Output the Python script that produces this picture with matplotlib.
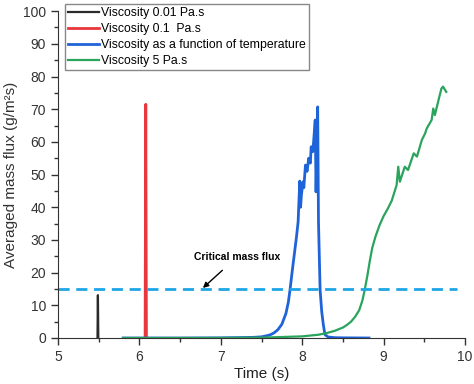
import matplotlib.pyplot as plt
from matplotlib.ticker import MultipleLocator

plt.rcParams['font.family'] = ['Liberation Sans', 'DejaVu Sans']

# series
t_low = [5.485, 5.49, 5.495]
flux_low = [0, 13.1, 0]

t_mid = [6.07, 6.078, 6.086]
flux_mid = [0, 71.5, 0]

t_temp = [5.8, 6.5, 7.0, 7.3, 7.4, 7.5, 7.6, 7.65, 7.7, 7.75, 7.8, 7.83, 7.85,
          7.88, 7.91, 7.93, 7.95, 7.97, 7.98, 7.99,
          8.01, 8.02, 8.04, 8.06, 8.08, 8.10, 8.11, 8.13, 8.14, 8.16, 8.17, 8.19,
          8.20, 8.22, 8.24, 8.26, 8.28, 8.32, 8.4, 8.5, 8.82]
flux_temp = [0, 0, 0.05, 0.15, 0.2, 0.35, 0.9, 1.5, 2.5, 4.2, 7.5, 11, 14.7,
             21, 27, 31, 35.6, 48, 40, 43.7,
             47.8, 46, 52.9, 51, 55, 53.5, 58.5, 57, 60, 66.7, 44.7, 70.7,
             35.6, 14.7, 8, 4, 1, 0.3, 0.1, 0.05, 0]

t_high = [5.8, 6.5, 7.0, 7.5, 8.0, 8.2, 8.3, 8.4, 8.5, 8.55, 8.6, 8.65, 8.7,
          8.74, 8.77, 8.8, 8.83, 8.86, 8.9, 8.95, 9.0, 9.05, 9.10,
          9.16, 9.18, 9.20, 9.26, 9.30, 9.37, 9.41, 9.47, 9.51, 9.53, 9.59, 9.61,
          9.63, 9.67, 9.71, 9.73, 9.77]
flux_high = [0, 0, 0.02, 0.1, 0.5, 1.0, 1.5, 2.2, 3.2, 4, 5, 6.5, 8.5,
             11.5, 15, 19, 23.5, 27.5, 31, 34.5, 37.3, 39.5, 42,
             46.8, 52.4, 47.8, 52.4, 51.4, 56.5, 55.5, 60.6, 62.6, 64.1, 66.7, 70.2,
             68.2, 72.3, 76.3, 76.9, 75.3]

critical_flux = 15
labels = ['Viscosity 0.01 Pa.s', 'Viscosity 0.1  Pa.s',
          'Viscosity as a function of temperature', 'Viscosity 5 Pa.s']

fig = plt.figure(figsize=(4.74, 3.84), dpi=100)
ax = fig.add_axes([0.1224, 0.1198, 0.8586, 0.8512])

l1, = ax.plot(t_low, flux_low, color='#2b2b2b', lw=1.6)
l2, = ax.plot(t_mid, flux_mid, color='#e8373d', lw=2)
l3, = ax.plot(t_temp, flux_temp, color='#1f63d8', lw=2)
l4, = ax.plot(t_high, flux_high, color='#2aa45c', lw=1.6)

ax.hlines(critical_flux, 5, 9.9, colors='#1ea6e6', lw=2, linestyles=(0, (4, 2.4)))
ax.annotate('Critical mass flux', xy=(6.78, 15.3), xytext=(7.2, 24.8),
            ha='center', va='center', fontsize=7.5, fontweight='bold',
            arrowprops=dict(arrowstyle='-|>', color='black', lw=1,
                            mutation_scale=8, shrinkA=6, shrinkB=0))

ax.set_xlim(5, 10)
ax.set_ylim(0, 100)
ax.xaxis.set_major_locator(MultipleLocator(1))
ax.xaxis.set_minor_locator(MultipleLocator(0.5))
ax.yaxis.set_major_locator(MultipleLocator(10))
ax.yaxis.set_minor_locator(MultipleLocator(5))
for s in ['top', 'right']:
    ax.spines[s].set_visible(False)
for s in ['left', 'bottom']:
    ax.spines[s].set_color('#333333')
ax.tick_params(which='major', direction='out', length=5, width=1,
               color='#333333', labelcolor='#333333', labelsize=10)
ax.tick_params(which='minor', direction='out', length=3, width=1, color='#333333')
ax.set_xlabel('Time (s)', fontsize=11, color='#222222', labelpad=2)
ax.set_ylabel('Averaged mass flux (g/m²s)', fontsize=11, color='#333333', labelpad=4)

fig.legend([l1, l2, l3, l4], labels, loc='upper left',
           bbox_to_anchor=(65 / 474, 1 - 4 / 384), fontsize=8.8,
           frameon=True, fancybox=False, edgecolor='#888888', framealpha=1,
           handlelength=2.5, handletextpad=0.2, labelspacing=0.33,
           borderpad=0.25, borderaxespad=0)

fig.savefig('out.png', dpi=100)
